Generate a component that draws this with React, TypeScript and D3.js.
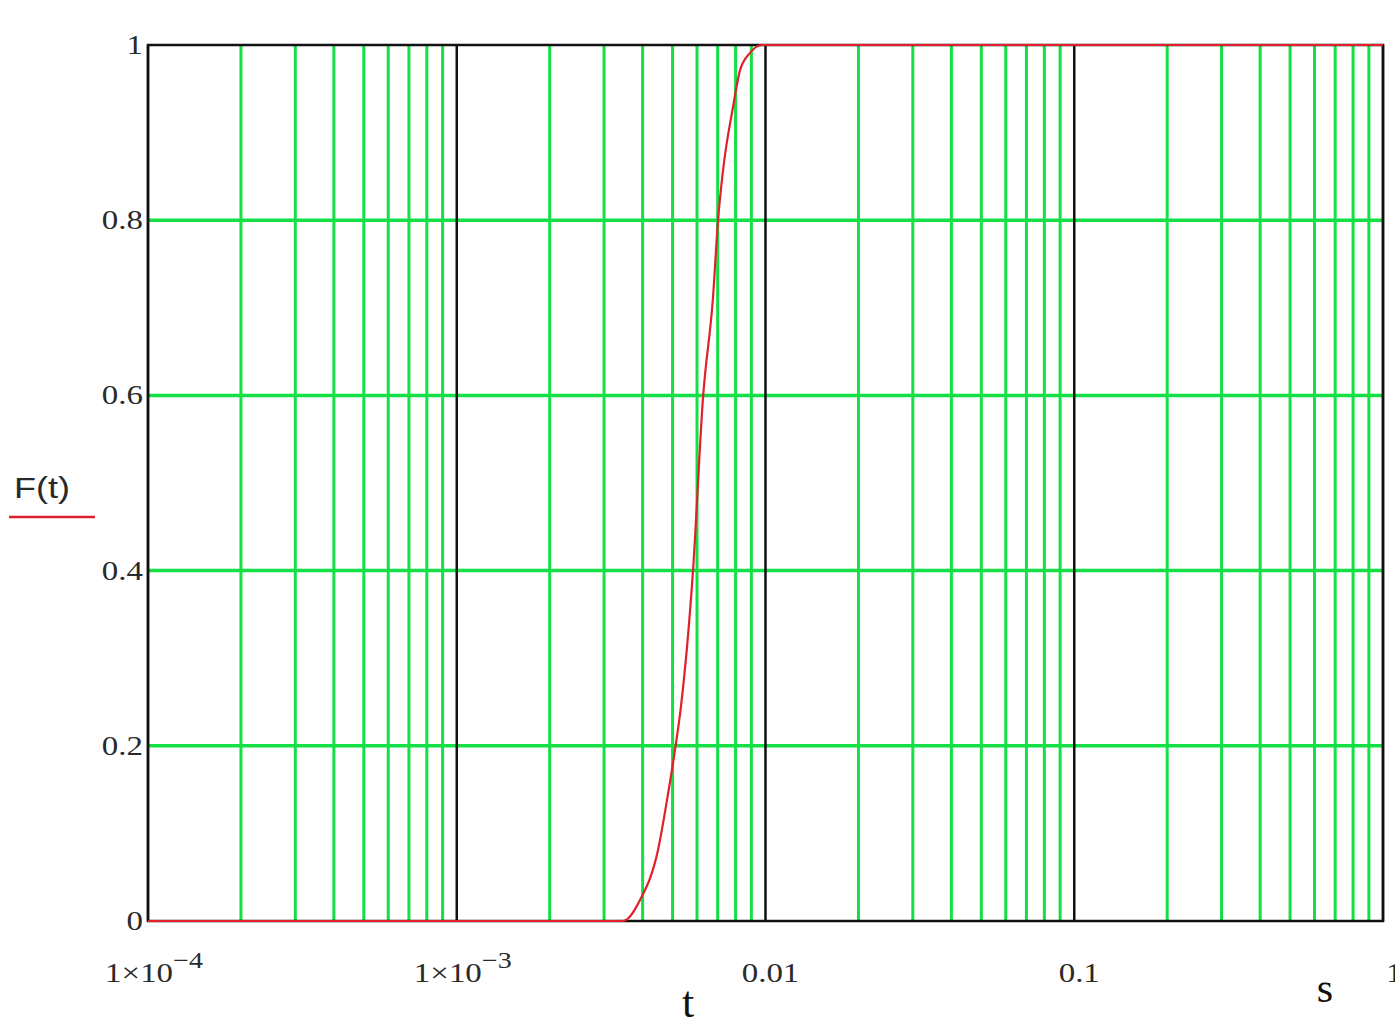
import React from 'react'
import * as d3 from 'd3'

// F(t) (t in seconds)
const tValues = [1e-4, 0.003455, 0.003923, 0.004486, 0.004797, 0.005091, 0.005324, 0.005824, 0.006277, 0.006761, 0.007019, 0.007285, 0.007847, 0.008268, 0.00891, 0.009743, 0.0101, 1]
const fValues = [0, 0, 0.024, 0.081, 0.138, 0.195, 0.245, 0.4, 0.598, 0.712, 0.8, 0.857, 0.929, 0.971, 0.991, 1, 1, 1]

const yTicks = [0, 0.2, 0.4, 0.6, 0.8, 1]
const yTickLabels = ['0', '0.2', '0.4', '0.6', '0.8', '1']
const decades = [1e-4, 1e-3, 0.01, 0.1, 1]

const W = 1395
const H = 1030
const left = 148
const right = 1383
const top = 45
const bottom = 921

const GREEN = '#12e044'
const RED = '#e0202a'
const SERIF = '"Liberation Serif", "Times New Roman", serif'

function XLabel({ v, x }: { v: number; x: number }) {
  const style = { fontFamily: SERIF, fill: '#2a2a2a' }
  if (v < 0.005) {
    const exp = Math.round(Math.log10(v))
    return (
      <text transform={`translate(${x + 6},982) scale(1.22,1)`} textAnchor="middle" fontSize={27} style={style}>
        1×10<tspan dy={-14} fontSize={23}>{'\u2212' + Math.abs(exp)}</tspan>
      </text>
    )
  }
  if (v === 1) {
    return (
      <text transform={`translate(${x + 3},982) scale(1.22,1)`} textAnchor="start" fontSize={27} style={style}>1</text>
    )
  }
  return (
    <text transform={`translate(${x + 5},982) scale(1.22,1)`} textAnchor="middle" fontSize={27} style={style}>
      {String(v)}
    </text>
  )
}

export default function App() {
  const x = d3.scaleLog().domain([1e-4, 1]).range([left, right])
  const y = d3.scaleLinear().domain([0, 1]).range([bottom, top])

  const minor = x.ticks().filter(t => !decades.some(d => Math.abs(t / d - 1) < 1e-6))
  const pts = tValues.map((t, i) => [t, fValues[i]] as [number, number])
  const line = d3.line<[number, number]>()
    .x(d => x(d[0]))
    .y(d => y(d[1]))
    .curve(d3.curveMonotoneX)

  return (
    <svg width={W} height={H} style={{ position: 'absolute', left: 0, top: 0, background: '#fff' }}>
      <rect x={0} y={0} width={W} height={H} fill="#fff" />
      {/* minor vertical grid */}
      {minor.map((t, i) => (
        <line key={'mv' + i} x1={x(t)} x2={x(t)} y1={top} y2={bottom} stroke={GREEN} strokeWidth={3} />
      ))}
      {/* horizontal grid */}
      {yTicks.filter(v => v > 0 && v < 1).map((v, i) => (
        <line key={'hg' + i} x1={left} x2={right} y1={y(v)} y2={y(v)} stroke={GREEN} strokeWidth={3.5} />
      ))}
      {/* decade lines */}
      {decades.map((d, i) => (
        <line key={'dv' + i} x1={x(d)} x2={x(d)} y1={top} y2={bottom} stroke="#111" strokeWidth={2.5} />
      ))}
      <rect x={left} y={top} width={right - left} height={bottom - top} fill="none" stroke="#111" strokeWidth={2.5} />

      <path d={line(pts) || ''} fill="none" stroke={RED} strokeWidth={2.2} />

      {yTicks.map((v, i) => (
        <text key={'yl' + i} transform={`translate(${left - 5},${y(v) + 9}) scale(1.22,1)`} textAnchor="end" fontSize={27}
          style={{ fontFamily: SERIF, fill: '#2a2a2a' }}>
          {yTickLabels[i]}
        </text>
      ))}
      {decades.map((d, i) => <XLabel key={'xl' + i} v={d} x={x(d)} />)}

      <text x={688} y={1017} textAnchor="middle" fontSize={44}
        style={{ fontFamily: SERIF, fill: '#111' }}>t</text>
      <text x={1325} y={1002} textAnchor="middle" fontSize={42}
        style={{ fontFamily: SERIF, fill: '#111' }}>s</text>

      <text transform="translate(14,498) scale(1.2,1)" fontSize={30}
        style={{ fontFamily: '"Liberation Sans", Arial, sans-serif', fill: '#2a2a2a' }}>F(t)</text>
      <line x1={9} x2={95} y1={517} y2={517} stroke={RED} strokeWidth={2.5} />
    </svg>
  )
}
